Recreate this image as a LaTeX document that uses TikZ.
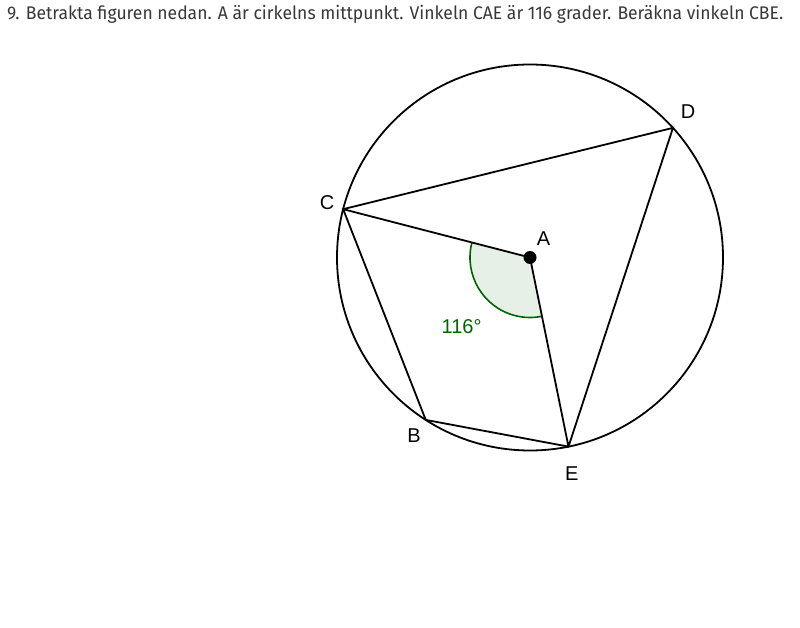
\documentclass[tikz,border=0pt]{standalone}
\usepackage{fontspec}
\usetikzlibrary{calc}
\setmainfont{Liberation Sans}
\newfontfamily\titlefont{Fira Sans}
\definecolor{titlegray}{RGB}{55,55,55}
\definecolor{angleline}{RGB}{0,100,0}
\definecolor{anglefill}{RGB}{230,240,230}
\tikzset{
  ptlabel/.style={inner sep=0pt,font=\fontsize{20}{24}\selectfont},
  geoline/.style={line width=1.8pt}
}
\begin{document}
\begin{tikzpicture}[x=1pt,y=-1pt]
\useasboundingbox (0,0) rectangle (800,628);

% Text Node
\node (title) [anchor=base west,inner sep=0pt,text=titlegray] at (7,20) {\resizebox{776pt}{\height}{\titlefont\fontsize{18.3}{20}\selectfont 9. Betrakta figuren nedan. A är cirkelns mittpunkt. Vinkeln CAE är 116 grader. Beräkna vinkeln CBE.}};

%Points on the circle
\coordinate (A) at (530,257.5);
\coordinate (C) at ($(A)+(-165.5:193)$);
\coordinate (D) at ($(A)+(-42.2:193)$);
\coordinate (E) at ($(A)+(-281.5:193)$);
\coordinate (B) at ($(A)+(-237.3:193)$);

%Shape: Angle sector
\fill[anglefill] (A) -- ++(-165.5:60) arc[start angle=-165.5,end angle=-281.5,radius=60] -- cycle;
\draw[angleline,line width=1.6pt] (A) ++(-165.5:60) arc[start angle=-165.5,end angle=-281.5,radius=60];

%Shape: Circle
\draw[geoline] (A) circle[radius=193];
%Straight Lines
\draw[geoline] (C) -- (D) -- (E) -- (B) -- (C) -- (A) -- (E);
%Shape: Center dot
\fill (A) circle[radius=6.5];

% Text Node
\node (lA) [ptlabel] at (543.5,239) {A};
% Text Node
\node (lC) [ptlabel] at (327,203) {C};
% Text Node
\node (lD) [ptlabel] at (688,112) {D};
% Text Node
\node (lB) [ptlabel] at (414,436) {B};
% Text Node
\node (lE) [ptlabel] at (571.7,474) {E};
% Text Node
\node (angle) [ptlabel,anchor=base west,text=angleline] at (441.5,333.7) {116°};
\end{tikzpicture}
\end{document}
